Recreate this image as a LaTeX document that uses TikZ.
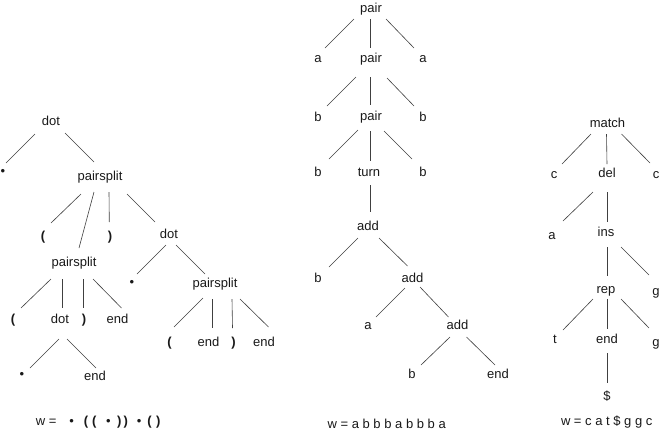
\documentclass[tikz,border=0pt]{standalone}
\usepackage{fontspec}
\setmainfont{Liberation Sans}
\newcommand\conn[4]{\draw[edge] ([shift={(#2)}]#1.center) -- ([shift={(#4)}]#3.center);}
\begin{document}
\begin{tikzpicture}[x=1pt,y=-1pt,
  lbl/.style={inner sep=0pt, font=\fontsize{13}{15}\selectfont, text height=9.5pt, text depth=2.5pt, text=black!90},
  edge/.style={draw=black!75, line width=0.6pt}]
\fill[white] (0,0) rectangle (662,432);
\useasboundingbox (0,0) rectangle (662,432);
% ---------- left tree ----------
\node[lbl] (L1) at (51,122) {dot};
\node[lbl] (L2) at (3,172) {•};
\node[lbl] (L3) at (100,177) {pairsplit};
\node[lbl] (L4) at (43,237) {\textbf{(}};
\node[lbl] (L5) at (74,263) {pairsplit};
\node[lbl] (L6) at (110,237) {\textbf{)}};
\node[lbl] (L7) at (169,235) {dot};
\node[lbl] (L8) at (13,320) {\textbf{(}};
\node[lbl] (L9) at (60,320) {dot};
\node[lbl] (L10) at (84,320) {\textbf{)}};
\node[lbl] (L11) at (117.5,320) {end};
\node[lbl] (L12) at (22,375) {•};
\node[lbl] (L13) at (95,377) {end};
\node[lbl] (L14) at (132,283) {•};
\node[lbl] (L15) at (215,284) {pairsplit};
\node[lbl] (L16) at (169.5,343) {\textbf{(}};
\node[lbl] (L17) at (208.5,343) {end};
\node[lbl] (L18) at (233.5,343) {\textbf{)}};
\node[lbl] (L19) at (264,343) {end};
\node[lbl, anchor=west] (wL) at (35.7,422) {w =\hspace{13pt}•\hspace{9.8pt}\textbf{(}\hspace{4pt}\textbf{(}\hspace{9.5pt}•\hspace{6.5pt}\textbf{)}\hspace{2.3pt}\textbf{)}\hspace{8.9pt}•\hspace{5.8pt}\textbf{(}\hspace{4.6pt}\textbf{)}};
\conn{L1}{-16,12}{L2}{3,-9}
\conn{L1}{14,11}{L3}{-6,-15}
\conn{L3}{-19,17}{L4}{8,-14}
\conn{L3}{-6,15}{L5}{5,-15}
\conn{L3}{9,15}{L6}{-0.7,-15}
\conn{L3}{27,17}{L7}{-14,-13}
\conn{L5}{-23,16}{L8}{8,-12}
\conn{L5}{-12,16}{L9}{2,-12}
\conn{L5}{9,16}{L10}{-1,-12}
\conn{L5}{19,16}{L11}{4,-12}
\conn{L9}{-1,19}{L12}{8,-7}
\conn{L9}{7,19}{L13}{1,-9}
\conn{L7}{-3,10}{L14}{5,-9}
\conn{L7}{7,10}{L15}{-10,-10}
\conn{L15}{-12,14}{L16}{4.5,-16}
\conn{L15}{-3,15}{L17}{3.5,-15}
\conn{L15}{17,15}{L18}{-1,-15}
\conn{L15}{25,15}{L19}{4.5,-16}
% ---------- middle tree ----------
\node[lbl] (M1) at (371,9) {pair};
\node[lbl] (M2) at (318,59) {a};
\node[lbl] (M3) at (371,59) {pair};
\node[lbl] (M4) at (423,59) {a};
\node[lbl] (M5) at (318,118) {b};
\node[lbl] (M6) at (371,117) {pair};
\node[lbl] (M7) at (423,118) {b};
\node[lbl] (M8) at (318,173) {b};
\node[lbl] (M9) at (369,173) {turn};
\node[lbl] (M10) at (423,173) {b};
\node[lbl] (M11) at (368,227) {add};
\node[lbl] (M12) at (318,279) {b};
\node[lbl] (M13) at (412.5,279) {add};
\node[lbl] (M14) at (368,326) {a};
\node[lbl] (M15) at (457.5,326) {add};
\node[lbl] (M16) at (412,375) {b};
\node[lbl] (M17) at (498,375) {end};
\node[lbl] (wM) at (386.7,425) {w = a b b b a b b b a};
\conn{M1}{-17,10}{M2}{7,-11}
\conn{M1}{-1,10}{M3}{-1,-11}
\conn{M1}{15,10}{M4}{-9,-11}
\conn{M3}{-15,18}{M5}{9,-12}
\conn{M3}{-1,18}{M6}{-1,-12}
\conn{M3}{16,19}{M7}{-9,-12}
\conn{M6}{-13,13}{M8}{11,-14}
\conn{M6}{-1,14}{M9}{1,-12}
\conn{M6}{13,14}{M10}{-11,-14}
\conn{M9}{1,12}{M11}{2,-15}
\conn{M11}{-10,11}{M12}{11,-12}
\conn{M11}{11,11}{M13}{-5,-13}
\conn{M13}{-7.5,9}{M14}{8,-9}
\conn{M13}{7.5,8}{M15}{-9,-9}
\conn{M15}{-7.5,11}{M16}{9,-10}
\conn{M15}{9,11}{M17}{-3,-10}
% ---------- right tree ----------
\node[lbl] (R1) at (607.5,124) {match};
\node[lbl] (R2) at (554,175) {c};
\node[lbl] (R3) at (607,174) {del};
\node[lbl] (R4) at (656,175) {c};
\node[lbl] (R5) at (552,236) {a};
\node[lbl] (R6) at (606,233) {ins};
\node[lbl] (R7) at (606,290) {rep};
\node[lbl] (R8) at (656,292) {g};
\node[lbl] (R9) at (555,340) {t};
\node[lbl] (R10) at (607,340) {end};
\node[lbl] (R11) at (656,343) {g};
\node[lbl] (R12) at (607,397) {\$};
\node[lbl] (wR) at (606.7,422) {w = c a t \$ g g c};
\conn{R1}{-16.5,10}{R2}{8,-11}
\conn{R1}{-1,10}{R3}{0,-10}
\conn{R1}{14,10}{R4}{-6,-12}
\conn{R3}{-14,18}{R5}{11,-15}
\conn{R3}{0,18}{R6}{1,-11}
\conn{R6}{1,14}{R7}{1,-14}
\conn{R6}{15,14}{R8}{-7,-17}
\conn{R7}{-13,9}{R9}{8,-10}
\conn{R7}{1,9}{R10}{0,-11}
\conn{R7}{15,9}{R11}{-7,-15}
\conn{R10}{0,13}{R12}{0,-14}
\end{tikzpicture}
\end{document}
